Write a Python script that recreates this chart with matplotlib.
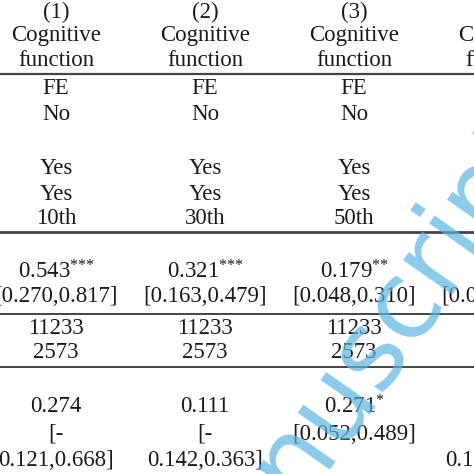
import matplotlib
matplotlib.use("Agg")
import matplotlib.pyplot as plt
from matplotlib.lines import Line2D

plt.rcParams['font.family'] = ['Liberation Serif', 'DejaVu Serif']
plt.rcParams['mathtext.fontset'] = 'custom'
plt.rcParams['mathtext.rm'] = 'Liberation Serif'
plt.rcParams['mathtext.it'] = 'Liberation Serif'

S3 = r"$^{{*}{*}{*}}$"
S2 = r"$^{{*}{*}}$"
S1 = r"$^{{*}}$"

columns = ["(1)", "(2)", "(3)", "(4)"]
dep_line1 = ["Cognitive", "Cognitive", "Cognitive", "Cognitive"]
dep_line2 = ["function", "function", "function", "function"]
method = ["FE", "FE", "FE", "FE"]
row_no = ["No", "No", "No", "No"]
row_yes1 = ["Yes", "Yes", "Yes", "Yes"]
row_yes2 = ["Yes", "Yes", "Yes", "Yes"]
quantile = ["10th", "30th", "50th", "70th"]
coef1 = ["0.543" + S3, "0.321" + S3, "0.179" + S2, "0.098" + S1]
ci1 = ["[0.270,0.817]", "[0.163,0.479]", "[0.048,0.310]", "[0.002,0.194]"]
obs = ["11233", "11233", "11233", "11233"]
groups = ["2573", "2573", "2573", "2573"]
coef2 = ["0.274", "0.111", "0.271" + S1, "0.168"]
ci2_a = ["[-", "[-", "[0.052,0.489]", "[-"]
ci2_b = ["0.121,0.668]", "0.142,0.363]", "", "0.131,0.467]"]

W = H = 474
fig = plt.figure(figsize=(4.74, 4.74), dpi=100)
fig.patch.set_facecolor("white")

col_x = [56, 205, 354, 503]
rows = [(12, columns), (36, dep_line1), (61, dep_line2), (89, method),
        (115, row_no), (168, row_yes1), (194, row_yes2), (219, quantile),
        (272, coef1), (297, ci1), (328, obs), (353, groups),
        (407, coef2), (434, ci2_a), (460, ci2_b)]

for y, vals in rows:
    for x, v in zip(col_x, vals):
        fig.text(x / W, 1 - y / H, v, ha="center", va="center",
                 fontsize=16.5, color="#1a1a1a")

for y, lw in [(74, 1.6), (232, 2.0), (314, 1.4), (367, 1.4)]:
    fig.add_artist(Line2D([0, 1], [1 - y / H] * 2, color="#444444", lw=lw))

fig.text(350 / W, 1 - 375 / H, "manuscript", rotation=55, ha="center",
         va="center", fontsize=78, color="#5ab4e0", alpha=0.7,
         family="DejaVu Sans", zorder=5)

fig.savefig("out.png", dpi=100)
